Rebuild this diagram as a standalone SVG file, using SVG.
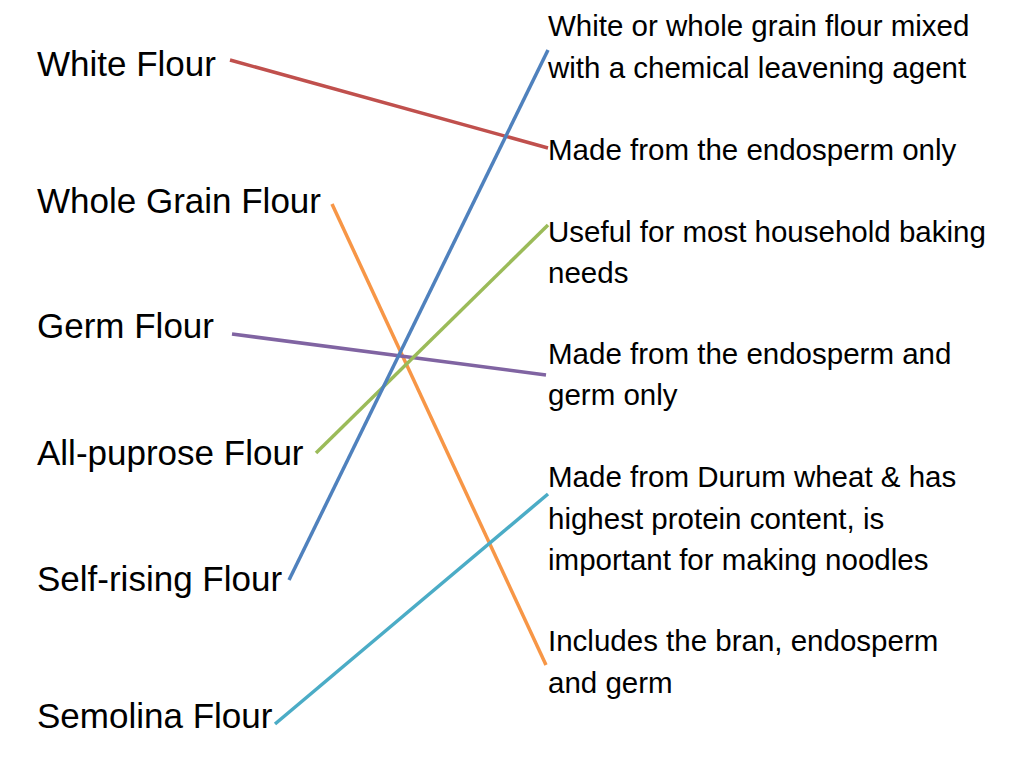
<svg xmlns="http://www.w3.org/2000/svg" width="1024" height="768" viewBox="0 0 1024 768">
<style>
.l{font-family:"Liberation Sans",Arial,sans-serif;font-size:35px;fill:#000}
.r{font-family:"Liberation Sans",Arial,sans-serif;font-size:29.5px;fill:#000}
line{stroke-width:3.5}
</style>
<rect width="1024" height="768" fill="#fff"/>
<g id="connectors">
<line x1="230" y1="60" x2="548" y2="148" stroke="#c0504d"/>
<line x1="332" y1="204" x2="546" y2="665" stroke="#f79646"/>
<line x1="232" y1="334" x2="546" y2="375" stroke="#8064a2"/>
<line x1="316" y1="453" x2="548" y2="225" stroke="#9bbb59"/>
<line x1="289" y1="580" x2="548" y2="50" stroke="#4f81bd"/>
<line x1="275" y1="724" x2="548" y2="494" stroke="#4bacc6"/>
</g>
<g id="left-white"><text class="l" x="37" y="76">White Flour</text></g>
<g id="left-whole"><text class="l" x="37" y="213">Whole Grain Flour</text></g>
<g id="left-germ"><text class="l" x="37" y="338">Germ Flour</text></g>
<g id="left-allpurpose"><text class="l" x="37" y="465">All-puprose Flour</text></g>
<g id="left-selfrising"><text class="l" x="37" y="591">Self-rising Flour</text></g>
<g id="left-semolina"><text class="l" x="37" y="728">Semolina Flour</text></g>
<g id="r1"><text class="r" x="548" y="36">White or whole grain flour mixed</text><text class="r" x="548" y="78">with a chemical leavening agent</text></g>
<g id="r2"><text class="r" x="548" y="160">Made from the endosperm only</text></g>
<g id="r3"><text class="r" x="548" y="242">Useful for most household baking</text><text class="r" x="548" y="283">needs</text></g>
<g id="r4"><text class="r" x="548" y="364">Made from the endosperm and</text><text class="r" x="548" y="405">germ only</text></g>
<g id="r5"><text class="r" x="548" y="487">Made from Durum wheat &amp; has</text><text class="r" x="548" y="529">highest protein content, is</text><text class="r" x="548" y="570">important for making noodles</text></g>
<g id="r6"><text class="r" x="548" y="651">Includes the bran, endosperm</text><text class="r" x="548" y="693">and germ</text></g>
</svg>
